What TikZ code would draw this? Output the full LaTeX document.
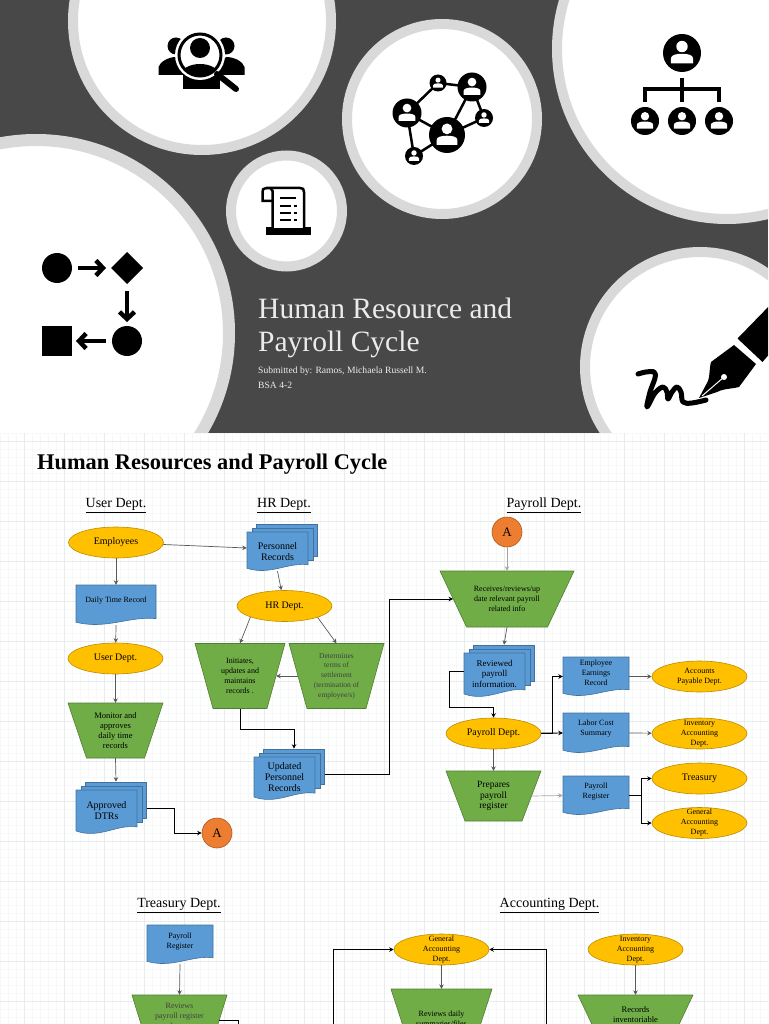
\documentclass[tikz,border=0pt]{standalone}
\usepackage{fontspec}
\setmainfont{Liberation Serif}
\usetikzlibrary{calc, shapes.geometric, arrows.meta}

\definecolor{slide}{HTML}{484848}
\definecolor{ring}{HTML}{D9D9D9}
\definecolor{gridminor}{HTML}{F7F9F9}
\definecolor{gridmajor}{HTML}{E8ECEC}
\definecolor{startfill}{HTML}{FFC000}
\definecolor{startline}{HTML}{BC8C00}
\definecolor{docfill}{HTML}{5B9BD5}
\definecolor{docline}{HTML}{41719C}
\definecolor{opfill}{HTML}{70AD47}
\definecolor{opline}{HTML}{507E32}
\definecolor{pagefill}{HTML}{ED7D31}
\definecolor{pageline}{HTML}{AE5A21}

\tikzset{
	size/.style = {font = \fontsize{#1}{\dimexpr #1pt/2+6pt\relax}\selectfont},
	bubble/.style = {draw = ring, fill = white, line width = 10pt},
	deptlabel/.style = {size = 14, inner sep = 0pt},
	startnode/.style = {ellipse, draw = startline, fill = startfill, line width = 0.6pt, minimum width = 95, minimum height = 31, inner sep = 0pt, align = center, size = 10},
	startlabel/.style = {inner sep = 0pt, align = center, size = 8},
	optext/.style = {rectangle, inner sep = 0pt, align = center, size = 8.5},
	pagenode/.style = {circle, draw = pageline, fill = pagefill, line width = 0.6pt, minimum size = 30, inner sep = 0pt, size = 13},
	docnode/.style = {rectangle, minimum width = #1, inner sep = 0pt},
	doctext/.style = {inner sep = 0pt, align = center, size = 8},
	sheet/.style = {rectangle, draw = docline, fill = docfill, line width = 0.6pt, inner sep = 0pt},
	link/.style = {draw = black!65, line width = 0.7pt, -{Stealth[length = 4.5pt, width = 4.5pt]}},
	elbow/.style = {draw = black, line width = 0.9pt, -{Stealth[length = 4.5pt, width = 4.5pt]}},
	thickarrow/.style = {line width = 4.5pt, -{Straight Barb[length = 7pt, width = 15pt]}}
}

% name, centre, width, height, options of the text, text
\newcommand{\wavedoc}[6]{
	\draw [draw = docline, fill = docfill, line width = 0.6pt] ($ (#2) + ({-#3/2},{-#4/2}) $) -- ($ (#2) + ({#3/2},{-#4/2}) $) -- ($ (#2) + ({#3/2},{0.34*#4}) $) .. controls ($ (#2) + ({0.17*#3},{0.27*#4}) $) and ($ (#2) + ({-0.12*#3},{0.62*#4}) $) .. ($ (#2) + ({-#3/2},{0.43*#4}) $) -- cycle;
	\node [docnode = #3, minimum height = #4] (#1) at (#2) {};
	\node [doctext, #5] (#1 text) at (#1.center) {#6};
}

% front sheet plus the two behind it
\newcommand{\stackdoc}[6]{
	\node [sheet, minimum width = #3, minimum height = {0.82*#4}] (#1 back) at ($ (#2) + (9.5,{-8-0.09*#4}) $) {};
	\node [sheet, minimum width = #3, minimum height = {0.82*#4}] (#1 middle) at ($ (#2) + (5,{-4-0.09*#4}) $) {};
	\wavedoc{#1}{#2}{#3}{#4}{#5}{#6}
}

% name, centre, top width, bottom width, height, options of the text, text
\newcommand{\manualop}[7]{
	\draw [draw = opline, fill = opfill, line width = 0.6pt] ($ (#2) + ({-#3/2},{-#5/2}) $) -- ($ (#2) + ({#3/2},{-#5/2}) $) -- ($ (#2) + ({#4/2},{#5/2}) $) -- ($ (#2) + ({-#4/2},{#5/2}) $) -- cycle;
	\node [optext, minimum width = {(#3+#4)/2}, minimum height = #5, #6] (#1) at (#2) {#7};
}

% centre, radius
\newcommand{\personicon}[3]{
	\begin{scope}[shift = {(#1,#2)}, x = #3pt, y = -#3pt]
		\fill [black] (0,0) circle [radius = 1];
		\fill [white] (0,-0.34) circle [radius = 0.3];
		\fill [white] (-0.58,0.55) -- (-0.58,0.28) .. controls (-0.58,0.1) and (-0.3,0.04) .. (0,0.04) .. controls (0.3,0.04) and (0.58,0.1) .. (0.58,0.28) -- (0.58,0.55) -- cycle;
	\end{scope}
}

\begin{document}
\begin{tikzpicture}[x = 1pt, y = -1pt]
		\useasboundingbox (0,0) rectangle (768,1024);
		\clip (0,0) rectangle (768,1024);
		
		%slide
		\fill [slide] (0,0) rectangle (768,433);
		\begin{scope}
			\clip (0,0) rectangle (768,433);
			\draw [bubble] (202,21) circle [radius = 129];
			\draw [bubble] (442,119) circle [radius = 95];
			\draw [bubble] (727,49) circle [radius = 170];
			\draw [bubble] (286.5,211) circle [radius = 55.5];
			\draw [bubble, line width = 12pt] (36,333) circle [radius = 193];
			\draw [bubble] (700,367) circle [radius = 115];
			
			%people and magnifier
			\fill (176,46) circle [radius = 8.5];
			\fill (226,46) circle [radius = 8.5];
			\fill (158.5,75) -- (158.5,67) .. controls (160,62) and (168,57) .. (176,57) -- (192,75) -- cycle;
			\fill (244.5,75) -- (244.5,67) .. controls (243,62) and (235,57) .. (226,57) -- (210,75) -- cycle;
			\fill (183,89) -- (183,72) -- (220,72) -- (220,89) -- cycle;
			\fill [white] (200,55) circle [radius = 25];
			\draw [line width = 3pt] (200,55) circle [radius = 21];
			\fill (200,48) circle [radius = 10];
			\begin{scope}
				\clip (200,55) circle [radius = 21];
				\fill (200,75) ellipse [x radius = 19, y radius = 11];
			\end{scope}
			\draw [line width = 6pt, line cap = round] (217,74) -- (236,89);
			
			%network
			\draw [line width = 2.5pt] (407,113) -- (438,83) -- (472,87) -- (484,118) -- (447,135) -- (472,87);
			\draw [line width = 2.5pt] (407,113) -- (447,135) -- (414,156) -- cycle;
			\personicon{407}{113}{14.5}
			\personicon{438}{83}{8.5}
			\personicon{472}{87}{14.5}
			\personicon{484}{118}{9}
			\personicon{447}{135}{18}
			\personicon{414}{156}{9}
			
			%chart of people
			\draw [line width = 4pt] (682,78) -- (682,102);
			\draw [line width = 4pt] (645,102) -- (645,89) -- (719,89) -- (719,102);
			\personicon{682}{53}{19}
			\personicon{645}{121}{14}
			\personicon{682}{121}{14}
			\personicon{719}{121}{14}
			
			%scroll
			\fill (265.5,227) rectangle (311,235);
			\draw [line width = 2.5pt, fill = white] (272.5,228) -- (272.5,191) .. controls (272.5,188) and (270,188) .. (266,188) -- (300,188) .. controls (303,188) and (304,189) .. (304,192) -- (304,228);
			\draw [line width = 2.5pt] (266,188) .. controls (263,188) and (262.5,190) .. (262.5,192) -- (262.5,201) -- (272,201);
			\draw [line width = 1.6pt] (280,198) -- (296,198);
			\foreach \rowy in {206,213,220}
				\draw [line width = 1.6pt] (280,\rowy) -- (291,\rowy) (293.5,\rowy) -- (297,\rowy);
			
			%process
			\fill (57,268) circle [radius = 15];
			\fill (127,252) -- (143,268) -- (127,284) -- (111,268) -- cycle;
			\fill (127,341) circle [radius = 15];
			\fill (42,326) rectangle (72,356);
			\draw [thickarrow] (78,268) -- (106,268);
			\draw [thickarrow] (127,291) -- (127,322);
			\draw [thickarrow] (106,341) -- (76,341);
			
			%pen and signature
			\fill (737.5,338.5) -- (772,303) -- (790,330) -- (762.5,362) -- cycle;
			\fill (734,345) -- (711,362) .. controls (709,370) and (710,376) .. (708,381) -- (699,398) -- (717,392) .. controls (725,388) and (733,389) .. (739,387) -- (756,364) -- cycle;
			\draw [white, line width = 1pt] (702,396) -- (724,377);
			\fill [white] (724,377) circle [radius = 3];
			\draw [line width = 5pt, line cap = round, line join = round] plot [smooth, tension = 0.6] coordinates {(638,374) (646,372) (654,372) (655,378) (650,392) (647,407) (655,393) (663,387) (667,392) (668,399) (672,392) (677,387) (681,392) (683,402) (692,403) (706,400)};
		\end{scope}
		
		\node [anchor = base west, inner sep = 0pt, text = black!8, size = 29.5] (slide first line) at (258,318) {Human Resource and};
		\node [anchor = base west, inner sep = 0pt, text = black!8, size = 29.5] (slide second line) at (258,351) {Payroll Cycle};
		\node [anchor = base west, inner sep = 0pt, text = black!8, size = 9.6] (slide author) at (258,373) {Submitted by: Ramos, Michaela Russell M.};
		\node [anchor = base west, inner sep = 0pt, text = black!8, size = 9.6] (slide course) at (258,388) {BSA 4-2};
		
		%grid
		\foreach \k in {0,...,96}
			\draw [gridminor, line width = 0.5pt] ({8*\k},433) -- ({8*\k},1024);
		\foreach \k in {0,...,74}
			\draw [gridminor, line width = 0.5pt] (0,{432.8+8*\k}) -- (768,{432.8+8*\k});
		\foreach \k in {0,...,18}
			\draw [gridmajor, line width = 0.6pt] ({24+40*\k},433) -- ({24+40*\k},1024);
		\foreach \k in {0,...,14}
			\draw [gridmajor, line width = 0.6pt] (0,{440.8+40*\k}) -- (768,{440.8+40*\k});
		
		%headings
		\node [anchor = base west, inner sep = 0pt, font = \fontsize{22.4}{26}\selectfont\bfseries] (sheet title) at (37,469) {Human Resources and Payroll Cycle};
		\node [deptlabel] (user label) at (116,505.5) {\underline{User Dept.}};
		\node [deptlabel] (hr label) at (284,505.5) {\underline{HR Dept.}};
		\node [deptlabel] (payroll label) at (544,505.5) {\underline{Payroll Dept.}};
		\node [deptlabel] (treasury label) at (179,905.5) {\underline{Treasury Dept.}};
		\node [deptlabel] (accounting label) at (549.5,905.5) {\underline{Accounting Dept.}};
		
		%user dept
		\node [startnode] (employees) at (116,542.5) {Employees};
		\wavedoc{daily record}{116,605}{80}{40}{yshift = 4pt}{Daily Time Record}
		\node [startnode] (user dept) at (115.5,658.5) {User Dept.};
		\manualop{monitor}{115.5,730.5}{95}{58}{55}{}{Monitor and\\approves\\daily time\\records}
		\stackdoc{approved}{106.5,812}{61}{44}{size = 10, yshift = 1pt}{Approved\\DTRs}
		\node [pagenode] (a left) at (217,833) {A};
		
		%hr dept
		\stackdoc{personnel}{277.5,551.5}{61}{39}{size = 10}{Personnel\\Records}
		\node [startnode] (hr dept) at (284.5,606) {HR Dept.};
		\manualop{initiates}{240,676}{90}{54}{65}{size = 8}{Initiates,\\updates and\\maintains\\records .}
		\manualop{determines}{336.5,676}{95}{59}{65}{text = black!75, size = 7.5}{Determines\\terms of\\settlement\\(termination of\\employee/s)}
		\stackdoc{updated}{284.5,778.5}{61}{43}{size = 10, yshift = 1pt}{Updated\\Personnel\\Records}
		
		%payroll dept
		\node [pagenode] (a right) at (507,532) {A};
		\manualop{receives}{507,599}{134}{81}{56}{size = 8}{Receives/reviews/up\\date relevant payroll\\related info}
		\stackdoc{reviewed}{494.5,675}{61}{44}{size = 9, yshift = 1.5pt}{Reviewed\\payroll\\information.}
		\node [startnode] (payroll dept) at (493.5,733.5) {Payroll Dept.};
		\manualop{prepares}{493.5,796}{95}{57}{50}{size = 9.5}{Prepares\\payroll\\register}
		\wavedoc{earnings}{596,676.5}{66}{39}{yshift = 3.5pt}{Employee\\Earnings\\Record}
		\wavedoc{labor}{596,733}{66}{40}{yshift = 4pt}{Labor Cost\\Summary}
		\wavedoc{register}{596,795.5}{66}{39}{yshift = 3.5pt}{Payroll\\Register}
		\node [startnode, label = {[startlabel]center:Accounts\\Payable Dept.}] (accounts payable) at (699.5,676.5) {};
		\node [startnode, label = {[startlabel]center:Inventory\\Accounting\\Dept.}] (inventory) at (699.5,733.5) {};
		\node [startnode] (treasury) at (699.5,778.5) {Treasury};
		\node [startnode, label = {[startlabel]center:General\\Accounting\\Dept.}] (general) at (699.5,823) {};
		
		%treasury dept
		\wavedoc{treasury register}{180,944.5}{66}{39}{yshift = 3pt}{Payroll\\Register}
		\manualop{treasury review}{179.5,1020}{95}{64}{50}{}{}
		\node [doctext, text = black!75] (treasury review text) at (179.5,1016) {Reviews\\payroll register\\and ensures};
		
		%accounting dept
		\node [startnode, label = {[startlabel]center:General\\Accounting\\Dept.}] (general accounting) at (441.5,949.5) {};
		\node [startnode, label = {[startlabel]center:Inventory\\Accounting\\Dept.}] (inventory accounting) at (635.5,949.5) {};
		\manualop{daily review}{441.5,1019}{101}{62}{60}{}{}
		\node [doctext] (daily review text) at (441.5,1018.5) {Reviews daily\\summaries/files};
		\manualop{records}{635.5,1025}{115}{58}{60}{}{}
		\node [doctext, size = 8.5] (records text) at (635.5,1014.5) {Records\\inventoriable};
		\coordinate (accounting left end) at (333,1040);
		\coordinate (accounting right end) at (546.5,1040);
		\coordinate (treasury elbow end) at (238.5,1040);
		
		%connectors
		\draw [link] (employees) -- (daily record);
		\draw [link] (daily record.south) -- (user dept);
		\draw [link] (user dept) -- (monitor.north);
		\draw [link] (monitor.south) -- (approved back.north);
		\draw [elbow] ([yshift = -8pt]approved back.east) -- ++(28,0) |- (a left);
		\draw [link] (employees) -- ([yshift = 3.5pt]personnel.west);
		\draw [link] (personnel.south) -- (hr dept);
		\draw [link] (hr dept.198) -- (initiates.north);
		\draw [link] (hr dept.-19) -- (determines.north);
		\draw [link] (determines.west) -- (initiates.east);
		\draw [elbow] (initiates.south) -- ++(0,21) -| (updated back.north);
		\draw [elbow] ([yshift = -8pt]updated back.east) -- ++(64.7,0) |- (receives.west);
		\draw [link, draw = black!35] (a right) -- (receives.north);
		\draw [link] (receives.south) -- (reviewed back.north);
		\draw [elbow] ([yshift = 4pt]reviewed.west) -- ++(-14,0) -- ++(0,36.5) -| (payroll dept);
		\draw [elbow] (payroll dept) -- ++(58.5,0) |- (earnings.west);
		\draw [elbow] (payroll dept) -- (labor.west);
		\draw [link] (payroll dept) -- (prepares.north);
		\draw [link, draw = black!35] (prepares.east) -- (register.west);
		\draw [link] (earnings.east) -- (accounts payable);
		\draw [link] (labor.east) -- (inventory);
		\draw [elbow] (register.east) -- ++(12,0) |- (treasury);
		\draw [elbow] (register.east) -- ++(12,0) |- (general);
		\draw [link] (treasury register.south) -- (treasury review.north);
		\draw [elbow, -] (treasury review.east) -| (treasury elbow end);
		\draw [elbow] (accounting left end) |- (general accounting);
		\draw [elbow] (accounting right end) |- (general accounting);
		\draw [link] (general accounting) -- (daily review.north);
		\draw [link] (inventory accounting) -- (records.north);
	\end{tikzpicture}
\end{document}
